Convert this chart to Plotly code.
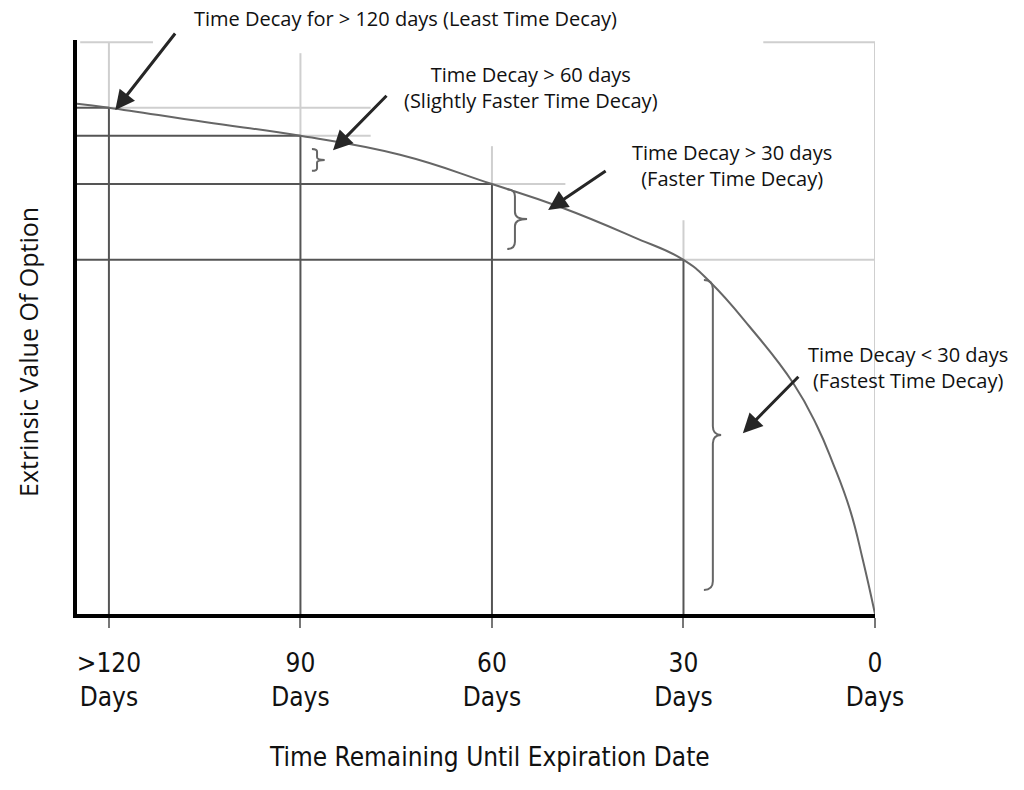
import plotly.graph_objects as go

# ---------------- data ----------------
curve_days = [125, 120, 105, 90, 74.4, 60, 49.3, 37.9, 30, 25.8, 19.6, 12.8, 9.1, 6.6, 3.9, 1.9, 0]
curve_vals = [88.9, 88.2, 85.7, 83.3, 80.0, 74.9, 70.9, 65.7, 61.7, 57.8, 50.0, 40.2, 32.8, 26.3, 18.1, 9.4, 0.0]

mark_days = [120, 90, 60, 30]
mark_vals = [88.2, 83.3, 74.9, 61.7]
ext_top_vals = [99.6, 97.7, 81.5, 68.6]      # light vertical extension above each mark
ext_right_days = [79, 79, 48.5, 0]            # light horizontal extension beyond each mark

tick_vals = [120, 90, 60, 30, 0]
tick_text = [">120<br>Days", "90<br>Days", "60<br>Days", "30<br>Days", "0<br>Days"]

# braces: (left day, spine day, tip day, top value, bottom value)
braces = [
    (88.2, 87.4, 86.2, 81.0, 77.2),
    (57.6, 56.4, 54.5, 74.0, 63.6),
    (26.8, 25.4, 24.1, 58.2, 4.2),
]

# arrows: (tip day, tip value, dx px, dy px)
arrows = [
    (119.0, 87.8, 61, -78),
    (84.9, 80.8, 55, -56),
    (51.2, 70.4, 59, -40),
    (20.7, 31.5, 57, -58),
]

labels = [
    ("Time Decay for > 120 days (Least Time Decay)", 405, 18),
    ("Time Decay > 60 days<br>(Slightly Faster Time Decay)", 531, 87),
    ("Time Decay > 30 days<br>(Faster Time Decay)", 732, 165),
    ("Time Decay < 30 days<br>(Fastest Time Decay)", 908, 367),
]

X_MAX = 125
Y_MAX = 100
L, R, T, B = 77, 149, 40, 176
W, H = 1024, 790

GEO = "'Open Sans', 'Noto Sans', sans-serif"
NARROW = "'Liberation Sans Narrow', 'DejaVu Sans Condensed', 'Roboto', sans-serif"


def paper(px, py):
    return (px - L) / (W - L - R), (H - B - py) / (H - T - B)


fig = go.Figure()

# light extension lines
lx, ly = [], []
for d, v, top, right in zip(mark_days, mark_vals, ext_top_vals, ext_right_days):
    lx += [d, d, None, d, right, None]
    ly += [v, top, None, v, v, None]
# top-left stub, right frame
lx += [124.5, 113.1, None, 17.5, 0, 0, None]
ly += [99.6, 99.6, None, 99.6, 99.6, 0, None]
fig.add_trace(go.Scatter(x=lx, y=ly, mode="lines", line=dict(color="#cfcfcf", width=2),
                         hoverinfo="skip", cliponaxis=False))

# dark drop lines
dx, dy = [], []
for d, v in zip(mark_days, mark_vals):
    dx += [d, d, None, X_MAX, d, None]
    dy += [0, v, None, v, v, None]
fig.add_trace(go.Scatter(x=dx, y=dy, mode="lines", line=dict(color="#555555", width=2),
                         hoverinfo="skip", cliponaxis=False))

# curve
fig.add_trace(go.Scatter(x=curve_days, y=curve_vals, mode="lines",
                         line=dict(color="#666666", width=2, shape="spline", smoothing=1.3),
                         cliponaxis=False))

# braces
shapes = []
for xl, xs, xt, vt, vb in braces:
    vm = (vt + vb) / 2
    r = min(1.5, 0.12 * (vt - vb))
    path = (f"M {xl},{vt} Q {xs},{vt} {xs},{vt - r} L {xs},{vm + r} "
            f"Q {xs},{vm} {xt},{vm} Q {xs},{vm} {xs},{vm - r} "
            f"L {xs},{vb + r} Q {xs},{vb} {xl},{vb}")
    shapes.append(dict(type="path", path=path, xref="x", yref="y",
                       line=dict(color="#666666", width=2)))

annotations = []
for x, y, ax, ay in arrows:
    annotations.append(dict(x=x, y=y, xref="x", yref="y", text="", showarrow=True,
                            ax=ax, ay=ay, arrowhead=2, arrowsize=1.3, arrowwidth=3,
                            arrowcolor="#262626", standoff=0))
for txt, px, py in labels:
    xp, yp = paper(px, py)
    annotations.append(dict(x=xp, y=yp, xref="paper", yref="paper", text=txt, showarrow=False,
                            xanchor="center", yanchor="middle", align="center",
                            font=dict(family=GEO, size=20, color="#111111")))

xp, yp = paper(489, 757)
annotations.append(dict(x=xp, y=yp, xref="paper", yref="paper",
                        text="Time Remaining Until Expiration Date", showarrow=False,
                        xanchor="center", yanchor="middle",
                        font=dict(family=NARROW, size=26, color="#111111")))
xp, yp = paper(28, 352)
annotations.append(dict(x=xp, y=yp, xref="paper", yref="paper",
                        text="Extrinsic Value Of Option", showarrow=False, textangle=-90,
                        xanchor="center", yanchor="middle",
                        font=dict(family=GEO, size=25, color="#111111")))

fig.update_layout(
    width=W, height=H, margin=dict(l=L, r=R, t=T, b=B),
    plot_bgcolor="white", paper_bgcolor="white", showlegend=False,
    shapes=shapes, annotations=annotations,
    xaxis=dict(range=[X_MAX, 0], showgrid=False, zeroline=False, showline=True,
               linecolor="black", linewidth=4, tickvals=tick_vals, ticktext=tick_text,
               ticks="outside", ticklen=10, tickwidth=2, tickcolor="#777777",
               ticklabelstandoff=13,
               tickfont=dict(family=NARROW, size=26, color="#111111")),
    yaxis=dict(range=[0, Y_MAX], showgrid=False, zeroline=False, showline=True,
               linecolor="black", linewidth=4, showticklabels=False, ticks=""),
)

fig.write_html("out.html")
